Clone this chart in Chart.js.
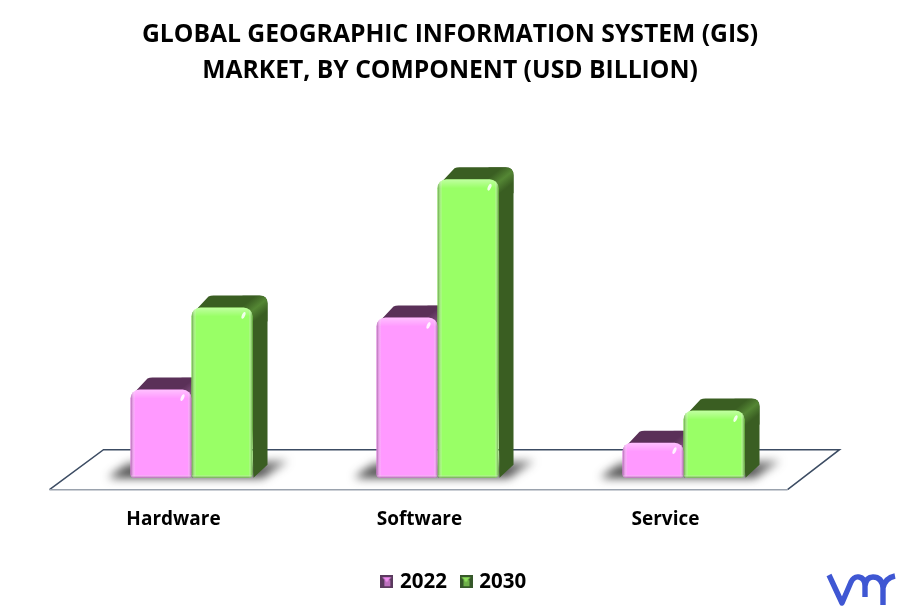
<!DOCTYPE html>
<html>
<head>
<meta charset="utf-8">
<script src="https://cdn.jsdelivr.net/npm/chart.js@4/dist/chart.umd.min.js"></script>
<style>
  html, body { margin: 0; padding: 0; background: #fff; }
  #wrap { width: 900px; height: 613px; }
</style>
</head>
<body>
<div id="wrap"><canvas id="chart"></canvas></div>
<script>
// Data (USD billion, estimated, no axis in the original)
const categories = ['Hardware', 'Software', 'Service'];
const seriesNames = ['2022', '2030'];
const values2022 = [4.4, 8.0, 1.75];
const values2030 = [8.5, 14.9, 3.35];

const PINK = '#ff99ff';
const GREEN = '#99ff66';
const FONT = '"Open Sans", "Noto Sans", sans-serif';
const DX = 15, DY = 12;   // depth of the 3D look

function rr(ctx, x, y, w, h, r, rb) {
  ctx.beginPath();
  ctx.roundRect(x, y, w, h, [r, r, rb, rb]);
}

function legendIcon(light, dark) {
  const c = document.createElement('canvas');
  c.width = 13; c.height = 13;
  const g = c.getContext('2d');
  g.fillStyle = dark;
  g.fillRect(0, 0, 13, 13);
  g.fillStyle = light;
  g.beginPath();
  g.moveTo(2, 2); g.lineTo(11, 2); g.lineTo(6.5, 7); g.closePath(); g.fill();
  g.globalAlpha = 0.65;
  g.fillRect(4, 5, 6, 6);
  return c;
}

// floor plane and soft shadows under each pair of bars
const floorPlugin = {
  id: 'floor',
  afterLayout(chart) {
    // legend sits a little right of centre in the original
    chart.legend.left += 5;
    chart.legend.right += 5;
  },
  beforeDatasetsDraw(chart) {
    const { ctx, chartArea: a, scales: { y } } = chart;
    const base = y.getPixelForValue(0);
    ctx.save();
    ctx.lineWidth = 1.5;
    ctx.strokeStyle = '#3c4c63';
    ctx.beginPath();
    ctx.moveTo(a.left - 19, base + 12);
    ctx.lineTo(a.left + 35, base - 28);
    ctx.lineTo(a.right + 33, base - 28);
    ctx.lineTo(a.right - 19, base + 12);
    ctx.stroke();
    ctx.strokeStyle = '#9aa2ad';
    ctx.beginPath();
    ctx.moveTo(a.left - 19, base + 12);
    ctx.lineTo(a.right - 19, base + 12);
    ctx.stroke();
    const m0 = chart.getDatasetMeta(0).data, m1 = chart.getDatasetMeta(1).data;
    m0.forEach((bar, i) => {
      const x0 = bar.x - bar.width / 2, x1 = m1[i].x + m1[i].width / 2;
      ctx.save();
      ctx.filter = 'blur(5px)';
      const g = ctx.createLinearGradient(0, base - 18, 0, base);
      g.addColorStop(0, 'rgba(50,50,50,0.5)');
      g.addColorStop(1, 'rgba(30,30,30,0.95)');
      ctx.fillStyle = g;
      ctx.beginPath();
      ctx.moveTo(x0 - 22, base);
      ctx.lineTo(x0 - 2, base - 15);
      ctx.lineTo(x1 + 36, base - 17);
      ctx.lineTo(x1 + 10, base);
      ctx.closePath();
      ctx.fill();
      ctx.restore();
    });
    ctx.restore();

    // top and side faces of the bars
    [[0, '#5a3058', '#7c4c7a'], [1, '#3a5e22', '#548634']].forEach(([di, dark, edge]) => {
      chart.getDatasetMeta(di).data.forEach(bar => {
        const l = bar.x - bar.width / 2, r = bar.x + bar.width / 2;
        const t = bar.y, b = bar.base;
        ctx.save();
        ctx.fillStyle = dark;
        ctx.beginPath();
        ctx.moveTo(l + 2, t + 5);
        ctx.lineTo(l + 17, t - DY + 1);
        ctx.quadraticCurveTo(l + 19, t - DY, l + 22, t - DY);
        ctx.lineTo(r + DX - 8, t - DY);
        ctx.quadraticCurveTo(r + DX, t - DY, r + DX, t - DY + 8);
        ctx.lineTo(r + DX, b - DY - 1);
        ctx.lineTo(r + 1, b);
        ctx.lineTo(r - 4, t + 8);
        ctx.closePath();
        ctx.fill();
        ctx.clip();
        // lit band where top meets side, running along the diagonal edge
        const cx = r + 7.5, cy = t - 3;
        const g = ctx.createLinearGradient(cx - 6, cy - 7.5, cx + 6, cy + 7.5);
        g.addColorStop(0, dark);
        g.addColorStop(0.5, edge);
        g.addColorStop(1, dark);
        ctx.fillStyle = g;
        ctx.fillRect(r - 10, t - DY, DX + 12, 26);
        ctx.restore();
      });
    });
  },
  // bevel on the front faces
  afterDatasetsDraw(chart) {
    const { ctx } = chart;
    [[0, '#a85ca8'], [1, '#5c9a3c']].forEach(([di, shade]) => {
      chart.getDatasetMeta(di).data.forEach(bar => {
        const l = bar.x - bar.width / 2, t = bar.y, w = bar.width, h = bar.base - bar.y;
        ctx.save();
        rr(ctx, l, t, w, h, 9, 4);
        ctx.clip();
        let g = ctx.createLinearGradient(l, 0, l + 5, 0);
        g.addColorStop(0, shade);
        g.addColorStop(1, 'rgba(255,255,255,0)');
        ctx.fillStyle = g;
        ctx.fillRect(l, t, 5, h);
        g = ctx.createLinearGradient(l + w - 4, 0, l + w, 0);
        g.addColorStop(0, 'rgba(255,255,255,0)');
        g.addColorStop(1, shade);
        ctx.fillStyle = g;
        ctx.fillRect(l + w - 4, t, 4, h);
        g = ctx.createLinearGradient(0, t, 0, t + 9);
        g.addColorStop(0, 'rgba(255,255,255,0.4)');
        g.addColorStop(1, 'rgba(255,255,255,0)');
        ctx.fillStyle = g;
        ctx.fillRect(l, t, w, 9);
        g = ctx.createLinearGradient(0, bar.base - 3, 0, bar.base);
        g.addColorStop(0, 'rgba(255,255,255,0)');
        g.addColorStop(1, shade);
        ctx.fillStyle = g;
        ctx.fillRect(l, bar.base - 3, w, 3);
        // small highlight, top right corner
        ctx.fillStyle = 'rgba(255,255,255,0.85)';
        ctx.beginPath();
        ctx.ellipse(l + w - 9, t + 8, 1.6, 3.6, 0.4, 0, Math.PI * 2);
        ctx.fill();
        ctx.restore();
      });
    });
  },
  // logo bottom right
  afterDraw(chart) {
    const { ctx } = chart;
    ctx.save();
    ctx.strokeStyle = '#3f57d3';
    ctx.lineWidth = 5.4;
    ctx.lineCap = 'butt';
    ctx.lineJoin = 'round';
    ctx.beginPath();
    ctx.moveTo(829, 575);
    ctx.lineTo(842, 603);
    ctx.lineTo(851, 582);
    ctx.quadraticCurveTo(854, 576, 859, 577);
    ctx.quadraticCurveTo(865, 578, 865, 586);
    ctx.lineTo(865, 597);
    ctx.moveTo(865, 586);
    ctx.quadraticCurveTo(866, 577, 873, 577);
    ctx.quadraticCurveTo(882, 577, 883, 588);
    ctx.lineTo(883, 605);
    ctx.moveTo(883, 588);
    ctx.quadraticCurveTo(885, 578, 895, 576);
    ctx.stroke();
    ctx.restore();
  }
};

new Chart(document.getElementById('chart'), {
  type: 'bar',
  data: {
    labels: categories,
    datasets: [
      { label: seriesNames[0], data: values2022, backgroundColor: PINK, borderRadius: { topLeft: 9, topRight: 9, bottomLeft: 4, bottomRight: 4 }, borderSkipped: false },
      { label: seriesNames[1], data: values2030, backgroundColor: GREEN, borderRadius: { topLeft: 9, topRight: 9, bottomLeft: 4, bottomRight: 4 }, borderSkipped: false }
    ]
  },
  options: {
    responsive: true,
    maintainAspectRatio: false,
    animation: false,
    devicePixelRatio: 1,
    layout: { padding: { left: 0, right: 0, top: 17, bottom: 11 } },
    datasets: { bar: { barPercentage: 1, categoryPercentage: 0.496 } },
    plugins: {
      title: {
        display: true,
        text: ['GLOBAL GEOGRAPHIC INFORMATION SYSTEM (GIS)', 'MARKET, BY COMPONENT (USD BILLION)'],
        color: '#000',
        font: { family: FONT, size: 24.7, weight: '700', lineHeight: 1.46 },
        padding: { top: 0, bottom: 28 }
      },
      legend: {
        display: true,
        position: 'bottom',
        labels: {
          color: '#000',
          font: { family: FONT, size: 20.5, weight: '700' },
          usePointStyle: true,
          pointStyleWidth: 6,
          padding: 16,
          generateLabels() {
            return seriesNames.map((n, i) => ({
              text: n,
              datasetIndex: i,
              fontColor: '#000',
              lineWidth: 0,
              pointStyle: i === 0 ? legendIcon('#f08cf0', '#5a3a5e') : legendIcon('#8ee05c', '#36582a')
            }));
          }
        }
      },
      tooltip: { enabled: false }
    },
    scales: {
      x: {
        grid: { display: false },
        border: { display: false },
        ticks: { color: '#000', padding: 22.5, labelOffset: -18, font: { family: FONT, size: 19, weight: '700' } },
        afterFit(scale) { scale.height += 2; }
      },
      y: {
        min: 0, max: 18,
        grid: { display: false },
        border: { display: false },
        ticks: { display: false },
        afterFit(scale) { scale.width = 68.5; }
      },
      // empty axis, only reserves the room on the right
      yRight: {
        position: 'right',
        grid: { display: false },
        border: { display: false },
        ticks: { display: false },
        afterFit(scale) { scale.width = 93.5; }
      }
    }
  },
  plugins: [floorPlugin]
});
</script>
</body>
</html>
